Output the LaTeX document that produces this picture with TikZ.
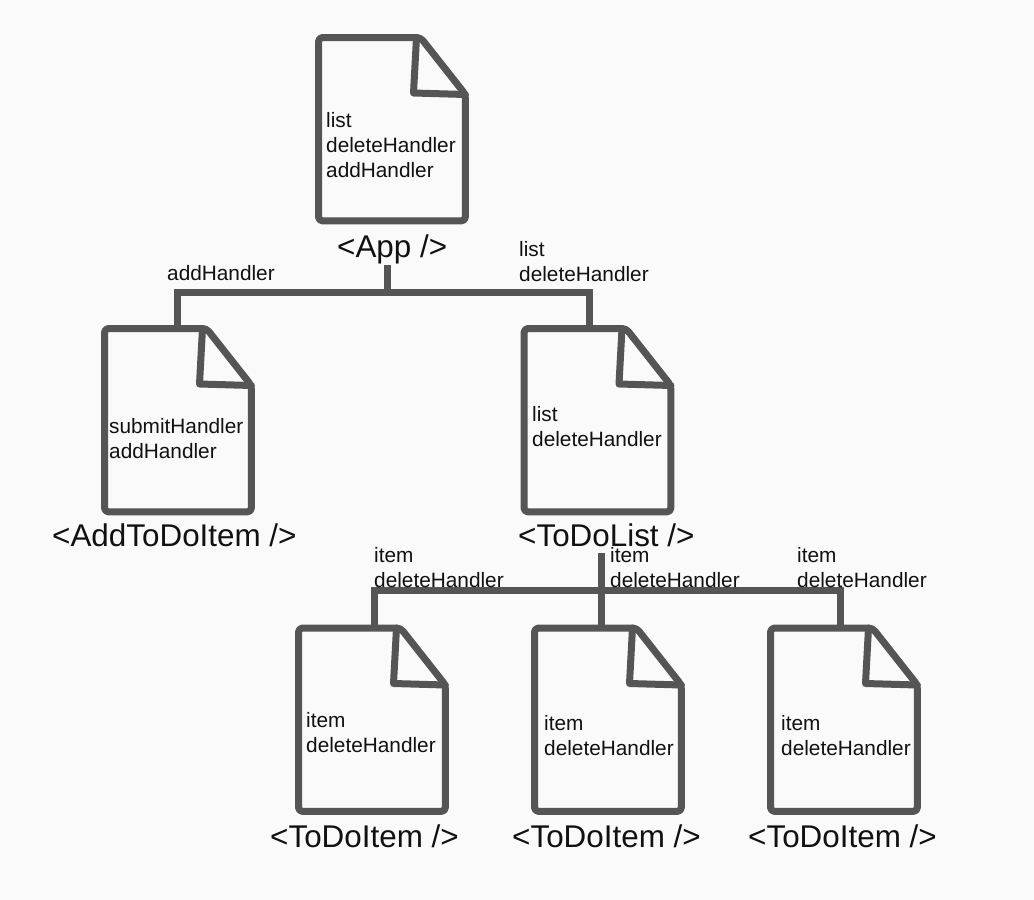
\documentclass[tikz,border=0pt]{standalone}
\usepackage{fontspec}
\setmainfont{Liberation Sans}
\usetikzlibrary{calc}
\definecolor{ink}{HTML}{555555}
\definecolor{paper}{HTML}{FAFAFA}
\definecolor{txt}{HTML}{111111}
\tikzset{
  props/.style={anchor=base west,inner sep=0pt,align=left,text=txt,font=\fontsize{20.8}{25}\selectfont},
  title/.style={anchor=base west,inner sep=0pt,text=txt,font=\fontsize{31.4}{36}\selectfont},
  docanchor/.style={inner sep=0pt,minimum width=146.5pt,minimum height=183pt,anchor=north west},
  outline/.style={draw=ink,line width=7pt,line join=round,line cap=round},
  wire/.style={draw=ink,line width=7pt}
}
\newcommand{\docfile}[3]{%
  \node[docanchor] (#1) at (#2,#3) {};
  \coordinate (#1fold) at ($(#1.north east)+(0,57)$);
  \draw[outline,rounded corners=4pt] (#1.north west) -- ($(#1.north west)+(102,0)$) -- (#1fold) -- (#1.south east) -- (#1.south west) -- cycle;
  \draw[outline] ($(#1.north west)+(98,0)$) -- ($(#1.north west)+(95,55.5)$) -- (#1fold);
}
\begin{document}
\begin{tikzpicture}[x=1pt,y=-1pt]
\useasboundingbox (0,0) rectangle (1034,900);
\fill[paper] (0,0) rectangle (1034,900);

\docfile{app}{318.5}{37.5}
\docfile{add}{104.5}{328.5}
\docfile{list}{524}{328.5}
\docfile{itemA}{298.5}{628}
\docfile{itemB}{534.5}{628}
\docfile{itemC}{770.5}{628}

\coordinate (trunkTop) at (387,265);
\coordinate (busTop) at (387,292);
\coordinate (busL) at (177,292);
\coordinate (busR) at (589,292);
\coordinate (addIn) at (177,329);
\coordinate (listIn) at (589,329);
\draw[wire] (trunkTop) -- (busTop);
\draw[wire] (addIn) -- (busL) -- (busR) -- (listIn);

\coordinate (trunkLow) at (601,553);
\coordinate (busLow) at (601,590);
\coordinate (busLowL) at (374,590);
\coordinate (busLowR) at (840,590);
\coordinate (itemAIn) at (374,629);
\coordinate (itemBIn) at (601,629);
\coordinate (itemCIn) at (840,629);
\draw[wire] (trunkLow) -- (itemBIn);
\draw[wire] (itemAIn) -- (busLowL) -- (busLowR) -- (itemCIn);

\node[props] (tApp) at (326,177) {list\\deleteHandler\\addHandler};
\node[props] (tAdd) at (109,458) {submitHandler\\addHandler};
\node[props] (tList) at (532,446) {list\\deleteHandler};
\node[props] (tItemA) at (306,752) {item\\deleteHandler};
\node[props] (tItemB) at (544,755) {item\\deleteHandler};
\node[props] (tItemC) at (781,755) {item\\deleteHandler};

\node[props] (lAdd) at (167,280) {addHandler};
\node[props] (lList) at (519,281) {list\\deleteHandler};
\node[props] (lItemA) at (374,587) {item\\deleteHandler};
\node[props] (lItemB) at (610,587) {item\\deleteHandler};
\node[props] (lItemC) at (797,587) {item\\deleteHandler};

\node[title] (nApp) at (337,257) {<App />};
\node[title] (nAdd) at (52,546) {<AddToDoItem />};
\node[title] (nList) at (518,546) {<ToDoList />};
\node[title] (nItemA) at (270,847) {<ToDoItem />};
\node[title] (nItemB) at (512,847) {<ToDoItem />};
\node[title] (nItemC) at (748,847) {<ToDoItem />};
\end{tikzpicture}
\end{document}
